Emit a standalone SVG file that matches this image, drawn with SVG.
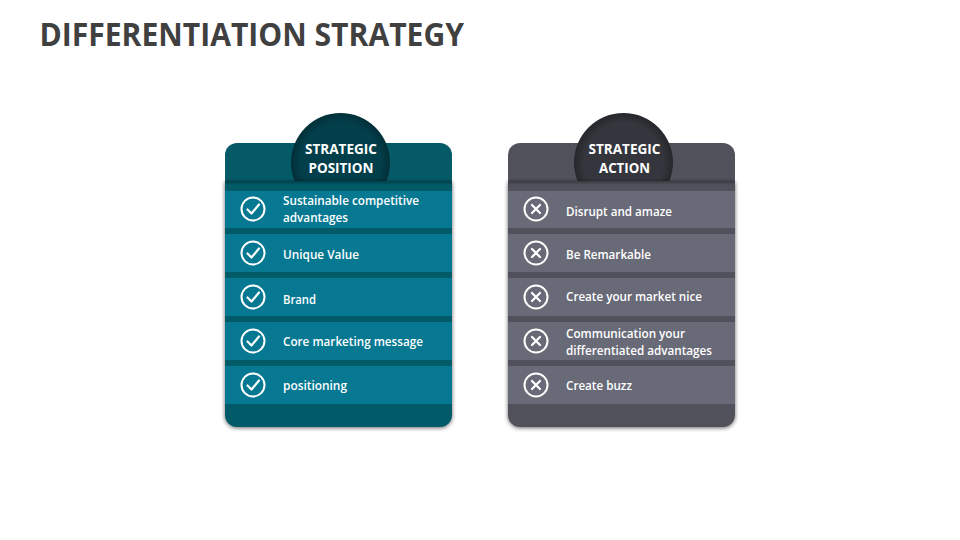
<svg xmlns="http://www.w3.org/2000/svg" width="960" height="540" viewBox="0 0 960 540">
<style>
text{font-family:"Open Sans","Liberation Sans",sans-serif;fill:#fff}
.t{font-family:"Open Sans","Liberation Sans",sans-serif;font-size:32px;font-weight:700;fill:#404040}
.h{font-size:14px;font-weight:700;text-anchor:middle}
.l{font-size:12px;font-weight:600}
.ic{fill:none;stroke:#fff;stroke-width:2}
.mk{fill:none;stroke:#fff;stroke-width:2.2;stroke-linecap:round;stroke-linejoin:round}
.tb{fill:#055a68}.tr{fill:#067892}
.gb{fill:#51515b}.gr{fill:#696a77}
</style>
<defs>
<filter id="sh" x="-10%" y="-10%" width="120%" height="120%"><feGaussianBlur in="SourceAlpha" stdDeviation="2.2"/><feOffset dx="0" dy="1"/><feComponentTransfer><feFuncA type="linear" slope="0.6"/></feComponentTransfer><feMerge><feMergeNode/><feMergeNode in="SourceGraphic"/></feMerge></filter>
<radialGradient id="rt"><stop offset="0.8" stop-color="#033f4b"/><stop offset="1" stop-color="#022f38"/></radialGradient>
<radialGradient id="rg"><stop offset="0.8" stop-color="#35363d"/><stop offset="1" stop-color="#26272c"/></radialGradient>
<linearGradient id="lip" x1="0" y1="0" x2="0" y2="1"><stop offset="0" stop-color="#000" stop-opacity=".3"/><stop offset="1" stop-color="#000" stop-opacity="0"/></linearGradient>
<clipPath id="cc"><rect x="200" y="100" width="560" height="81"/></clipPath>
<g id="ck"><circle r="11.5" class="ic"/><path class="mk" d="M-5.5 0.5L-1.5 4.5L6 -4.5"/></g>
<g id="xx"><circle r="11.5" class="ic"/><path class="mk" d="M-4 -4L4 4M4 -4L-4 4"/></g>
</defs>
<text class="t" x="39.5" y="46" id="title" textLength="424.5" lengthAdjust="spacingAndGlyphs">DIFFERENTIATION STRATEGY</text>
<g id="card-position">
<path d="M225 181V155a12 12 0 0 1 12-12H440a12 12 0 0 1 12 12V181Z" class="tb"/>
<circle cx="340.5" cy="162.5" r="49.5" fill="url(#rt)" clip-path="url(#cc)"/>
<path d="M225 181H452V415a12 12 0 0 1-12 12H237a12 12 0 0 1-12-12Z" class="tb" filter="url(#sh)"/>
<rect x="225" y="181" width="227" height="4" fill="url(#lip)"/>
<text class="h" x="341" y="154" textLength="72" lengthAdjust="spacingAndGlyphs">STRATEGIC</text>
<text class="h" x="341" y="173" textLength="65" lengthAdjust="spacingAndGlyphs">POSITION</text>
</g>
<g id="row-p1"><rect x="225" y="191" width="227" height="37" class="tr"/><use href="#ck" x="253" y="209"/><text class="l" x="283" y="205" textLength="136" lengthAdjust="spacingAndGlyphs">Sustainable competitive</text><text class="l" x="283" y="222" textLength="65" lengthAdjust="spacingAndGlyphs">advantages</text></g>
<g id="row-p2"><rect x="225" y="234" width="227" height="38" class="tr"/><use href="#ck" x="253" y="253"/><text class="l" x="283" y="259" textLength="76" lengthAdjust="spacingAndGlyphs">Unique Value</text></g>
<g id="row-p3"><rect x="225" y="278" width="227" height="38" class="tr"/><use href="#ck" x="253" y="297"/><text class="l" x="283" y="304" textLength="33" lengthAdjust="spacingAndGlyphs">Brand</text></g>
<g id="row-p4"><rect x="225" y="322" width="227" height="38" class="tr"/><use href="#ck" x="253" y="341"/><text class="l" x="283" y="346" textLength="140" lengthAdjust="spacingAndGlyphs">Core marketing message</text></g>
<g id="row-p5"><rect x="225" y="366" width="227" height="38" class="tr"/><use href="#ck" x="253" y="385"/><text class="l" x="283" y="390" textLength="64" lengthAdjust="spacingAndGlyphs">positioning</text></g>
<g id="card-action">
<path d="M508 181V155a12 12 0 0 1 12-12H723a12 12 0 0 1 12 12V181Z" class="gb"/>
<circle cx="623.5" cy="162.5" r="49.5" fill="url(#rg)" clip-path="url(#cc)"/>
<path d="M508 181H735V415a12 12 0 0 1-12 12H520a12 12 0 0 1-12-12Z" class="gb" filter="url(#sh)"/>
<rect x="508" y="181" width="227" height="4" fill="url(#lip)"/>
<text class="h" x="624.5" y="154" textLength="72" lengthAdjust="spacingAndGlyphs">STRATEGIC</text>
<text class="h" x="624.5" y="173" textLength="51" lengthAdjust="spacingAndGlyphs">ACTION</text>
</g>
<g id="row-a1"><rect x="508" y="191" width="227" height="37" class="gr"/><use href="#xx" x="536" y="209"/><text class="l" x="566" y="216" textLength="106" lengthAdjust="spacingAndGlyphs">Disrupt and amaze</text></g>
<g id="row-a2"><rect x="508" y="234" width="227" height="38" class="gr"/><use href="#xx" x="536" y="253"/><text class="l" x="566" y="259" textLength="85" lengthAdjust="spacingAndGlyphs">Be Remarkable</text></g>
<g id="row-a3"><rect x="508" y="278" width="227" height="38" class="gr"/><use href="#xx" x="536" y="297"/><text class="l" x="566" y="301" textLength="136" lengthAdjust="spacingAndGlyphs">Create your market nice</text></g>
<g id="row-a4"><rect x="508" y="322" width="227" height="38" class="gr"/><use href="#xx" x="536" y="341"/><text class="l" x="566" y="338" textLength="119" lengthAdjust="spacingAndGlyphs">Communication your</text><text class="l" x="566" y="355" textLength="146" lengthAdjust="spacingAndGlyphs">differentiated advantages</text></g>
<g id="row-a5"><rect x="508" y="366" width="227" height="38" class="gr"/><use href="#xx" x="536" y="385"/><text class="l" x="566" y="390" textLength="66" lengthAdjust="spacingAndGlyphs">Create buzz</text></g>
<g id="connectors"/>
</svg>
